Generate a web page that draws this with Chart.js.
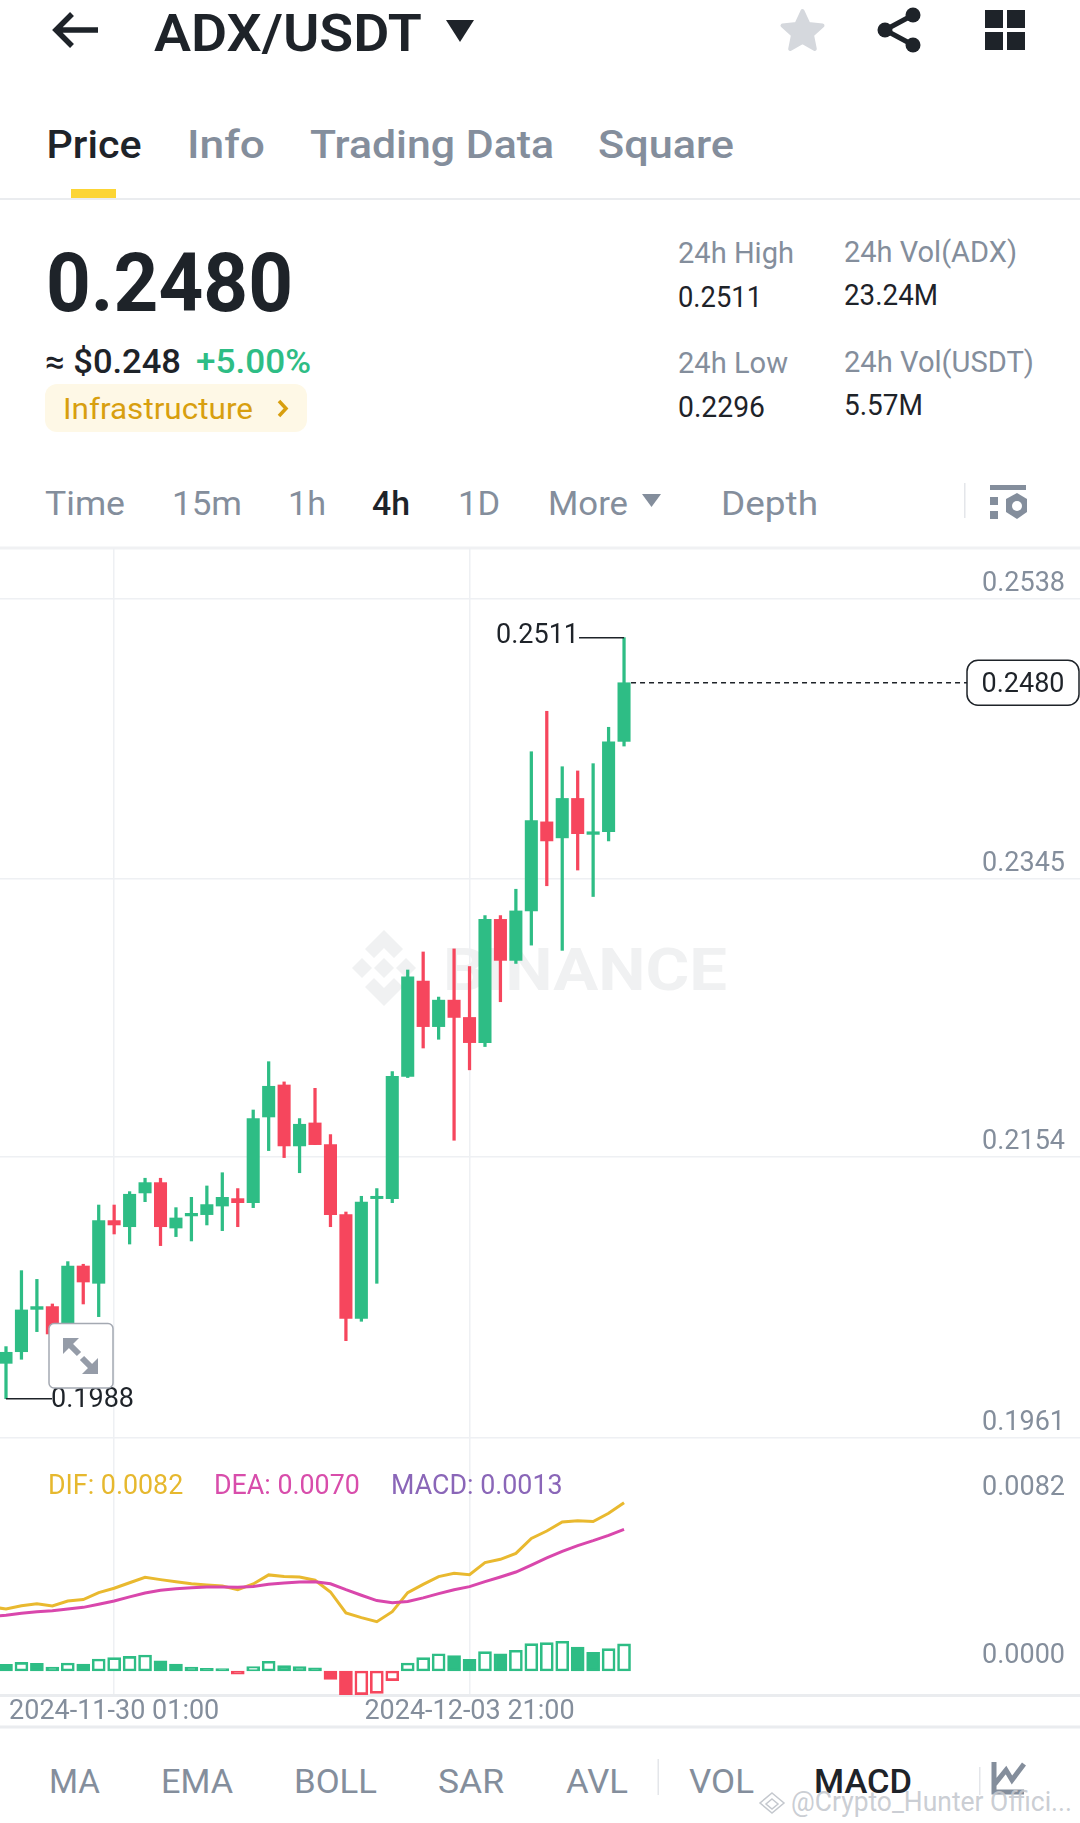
<!DOCTYPE html>
<html lang="en">
<head>
<meta charset="utf-8">
<title>ADX/USDT</title>
<script src="https://cdn.jsdelivr.net/npm/chart.js@4"></script>
<style>
    html, body { margin: 0; padding: 0; background: #fff; }
    #page { position: relative; width: 1080px; height: 1823px; overflow: hidden; font-family: Roboto, sans-serif; }
    #page svg, #grafica { position: absolute; left: 0; top: 0; }
    #grafica { top: 548px; }
    text { font-family: Roboto, sans-serif; }
    .gris { fill: #848E9C; }
    .oscuro { fill: #1E2329; }
</style>
</head>
<body>
<div id="page">
    <!-- cabecera, pestañas, marca de agua y barra inferior -->
    <svg width="1080" height="1823" viewBox="0 0 1080 1823">
        <path d="M98 30H58M72 14L56 30L72 46" fill="none" stroke="#1E2329" stroke-width="5.5"/>
        <text class="oscuro" x="154" y="51" font-size="52" font-weight="600" textLength="268" lengthAdjust="spacingAndGlyphs">ADX/USDT</text>
        <path d="M446 20H474L460 42Z" fill="#1E2329"/>
        <path d="M802.5 11L808.4 23.9L822.5 25.5L812 35L814.8 49L802.5 42L790.2 49L793 35L782.5 25.5L796.6 23.9Z" fill="#D5D8DD" stroke="#D5D8DD" stroke-width="4" stroke-linejoin="round"/>
        <g fill="#1E2329" stroke="#1E2329">
            <path d="M913 15L885 30L913 45" fill="none" stroke-width="5"/>
            <circle cx="913" cy="15" r="7.5" stroke="none"/><circle cx="885" cy="30" r="7.5" stroke="none"/><circle cx="913" cy="45" r="7.5" stroke="none"/>
        </g>
        <g fill="#1E2329">
            <rect x="985" y="10" width="18" height="18"/><rect x="1007" y="10" width="18" height="18"/>
            <rect x="985" y="32" width="18" height="18"/><rect x="1007" y="32" width="18" height="18"/>
        </g>

        <text class="oscuro" x="46.500" y="158" font-size="38" textLength="95" lengthAdjust="spacingAndGlyphs" font-weight="500">Price</text>
        <text class="gris" x="187" y="158" font-size="38" font-weight="500" textLength="78" lengthAdjust="spacingAndGlyphs">Info</text>
        <text class="gris" x="310" y="158" font-size="38" font-weight="500" textLength="244" lengthAdjust="spacingAndGlyphs">Trading Data</text>
        <text class="gris" x="598" y="158" font-size="38" font-weight="500" textLength="136" lengthAdjust="spacingAndGlyphs">Square</text>
        <rect x="71" y="189" width="45" height="9" fill="#FCD535"/>
        <rect x="0" y="198" width="1080" height="2" fill="#EAECEF"/>

        <text class="oscuro" x="46" y="311" font-size="82" font-weight="700" textLength="247" lengthAdjust="spacingAndGlyphs">0.2480</text>
        <text class="oscuro" x="45" y="373" font-size="33" font-weight="500" textLength="136" lengthAdjust="spacingAndGlyphs">≈ $0.248</text>
        <text x="196" y="373" font-size="33" font-weight="500" fill="#2EBD85" textLength="115" lengthAdjust="spacingAndGlyphs">+5.00%</text>
        <rect x="45" y="384" width="262" height="48" rx="12" fill="#FEF8E6"/>
        <text x="63" y="419" font-size="29" fill="#D89F0F" textLength="190" lengthAdjust="spacingAndGlyphs">Infrastructure</text>
        <path d="M279 401L286 408.500L279 416" fill="none" stroke="#D89F0F" stroke-width="3.5"/>

        <text class="gris" x="678" y="263" font-size="29" textLength="116" lengthAdjust="spacingAndGlyphs">24h High</text>
        <text class="gris" x="844" y="262" font-size="29" textLength="173" lengthAdjust="spacingAndGlyphs">24h Vol(ADX)</text>
        <text class="oscuro" x="678" y="307" font-size="29" textLength="84" lengthAdjust="spacingAndGlyphs">0.2511</text>
        <text class="oscuro" x="844" y="305" font-size="29" textLength="94" lengthAdjust="spacingAndGlyphs">23.24M</text>
        <text class="gris" x="678" y="373" font-size="29" textLength="110" lengthAdjust="spacingAndGlyphs">24h Low</text>
        <text class="gris" x="844" y="372" font-size="29" textLength="190" lengthAdjust="spacingAndGlyphs">24h Vol(USDT)</text>
        <text class="oscuro" x="678" y="417" font-size="29" textLength="87" lengthAdjust="spacingAndGlyphs">0.2296</text>
        <text class="oscuro" x="844" y="415" font-size="29" textLength="79" lengthAdjust="spacingAndGlyphs">5.57M</text>

        <text class="gris" x="45" y="515" font-size="34" textLength="80" lengthAdjust="spacingAndGlyphs">Time</text>
        <text class="gris" x="172" y="515" font-size="34" textLength="70" lengthAdjust="spacingAndGlyphs">15m</text>
        <text class="gris" x="288" y="515" font-size="34" textLength="38" lengthAdjust="spacingAndGlyphs">1h</text>
        <text class="oscuro" x="372" y="515" font-size="34" font-weight="500" textLength="38" lengthAdjust="spacingAndGlyphs">4h</text>
        <text class="gris" x="458" y="515" font-size="34" textLength="42" lengthAdjust="spacingAndGlyphs">1D</text>
        <text class="gris" x="548" y="515" font-size="34" textLength="80" lengthAdjust="spacingAndGlyphs">More</text>
        <path d="M642 494H661L651.500 507Z" fill="#848E9C"/>
        <text class="gris" x="721" y="515" font-size="34" textLength="97" lengthAdjust="spacingAndGlyphs">Depth</text>
        <rect x="964" y="483" width="1.5" height="35" fill="#E4E6EA"/>
        <g fill="#848E9C">
            <rect x="990" y="485" width="36" height="5"/>
            <rect x="990" y="497" width="8" height="8"/><rect x="990" y="511" width="8" height="8"/>
            <path d="M1017 493L1027 499V512L1017 519L1006 512V499Z"/>
        </g>
        <circle cx="1017" cy="506" r="5" fill="#fff"/>
        <rect x="0" y="546.500" width="1080" height="3" fill="#F0F1F3"/>

        <!-- marca de agua del grafico -->
        <g fill="#F0F1F2">
            <path d="M384 930L403 949L394 958L384 948L374 958L365 949Z"/>
            <path d="M384 1006L403 987L394 978L384 988L374 978L365 987Z"/>
            <path d="M352 968L362 958L372 968L362 978Z"/><path d="M396 968L406 958L416 968L406 978Z"/>
            <path d="M384 958L394 968L384 978L374 968Z"/>
        </g>
        <text x="443" y="990" font-size="59" font-weight="700" fill="#F0F1F2" textLength="284" lengthAdjust="spacingAndGlyphs">BINANCE</text>

        <rect x="0" y="1725.500" width="1080" height="3" fill="#EAECEF"/>
        <text class="gris" x="49" y="1793" font-size="34" textLength="51" lengthAdjust="spacingAndGlyphs">MA</text>
        <text class="gris" x="161" y="1793" font-size="34" textLength="72" lengthAdjust="spacingAndGlyphs">EMA</text>
        <text class="gris" x="294" y="1793" font-size="34" textLength="83" lengthAdjust="spacingAndGlyphs">BOLL</text>
        <text class="gris" x="438" y="1793" font-size="34" textLength="66" lengthAdjust="spacingAndGlyphs">SAR</text>
        <text class="gris" x="566" y="1793" font-size="34" textLength="62" lengthAdjust="spacingAndGlyphs">AVL</text>
        <rect x="657.500" y="1759" width="1.5" height="36" fill="#E4E6EA"/>
        <text class="gris" x="689" y="1793" font-size="34" textLength="65" lengthAdjust="spacingAndGlyphs">VOL</text>
        <text class="oscuro" x="814" y="1793" font-size="34" font-weight="500" textLength="98" lengthAdjust="spacingAndGlyphs">MACD</text>
        <rect x="979" y="1767" width="1.5" height="28" fill="#E4E6EA"/>
        <path d="M994 1762V1792H1024M994 1785L1006 1770L1012 1780L1024 1764" fill="none" stroke="#848E9C" stroke-width="5"/>

        <!-- firma sobre la barra inferior -->
        <path d="M772 1793L784 1803L772 1813L760 1803ZM772 1799L778 1804L772 1809L766 1804Z" fill="none" stroke="#C4C8CE" stroke-width="1.5"/>
        <text x="791" y="1811" font-size="27" fill="#C4C8CE" fill-opacity="0.9" textLength="281" lengthAdjust="spacingAndGlyphs">@Crypto_Hunter Offici...</text>
    </svg>

    <canvas id="grafica" width="1080" height="1179"></canvas>

    <!-- boton de expandir encima de las velas -->
    <svg width="1080" height="1823" viewBox="0 0 1080 1823" style="pointer-events:none">
        <rect x="49" y="1323.500" width="64" height="64.500" rx="5" fill="#fff" stroke="#A4A9B2" stroke-width="1.5"/>
        <path d="M63 1338H79L63 1354Z M98 1374H82L98 1358Z" fill="#959CA8"/>
        <path d="M69 1344L79 1354M82 1358L92 1368" stroke="#959CA8" stroke-width="6"/>
    </svg>
</div>

<script>
(function() {
    const etiquetasTiempo = ['2024-11-30 01:00', '2024-12-03 21:00'];
    const indicesTiempo = [7, 30];

    const aperturas = [
        0.20123, 0.20203, 0.20494, 0.20513, 0.20325, 0.20792, 0.20673, 0.21104, 0.21062, 0.21294, 0.21365,
        0.21053, 0.21136, 0.21145, 0.21204, 0.21255, 0.21227, 0.21816, 0.22036, 0.21617, 0.21775,
        0.21626, 0.21145, 0.20432, 0.21255, 0.21255, 0.22095, 0.22750, 0.22437, 0.22619, 0.22500,
        0.22327, 0.23174, 0.22892, 0.23232, 0.23844, 0.23734, 0.24005, 0.23758, 0.23776, 0.24397
    ];
    const maximos = [
        0.20238, 0.20760, 0.20700, 0.20531, 0.20822, 0.20804, 0.21211, 0.21211, 0.21303, 0.21395, 0.21395,
        0.21193, 0.21264, 0.21342, 0.21433, 0.21324, 0.21864, 0.22196, 0.22057, 0.21805, 0.22013,
        0.21695, 0.21163, 0.21271, 0.21324, 0.22128, 0.22826, 0.22950, 0.22640, 0.22971, 0.22850,
        0.23200, 0.23200, 0.23381, 0.24326, 0.24604, 0.24223, 0.24194, 0.24244, 0.24494, 0.25110
    ];
    const minimos = [
        0.19880, 0.20151, 0.20341, 0.20318, 0.20311, 0.20531, 0.20444, 0.21012, 0.20943, 0.21234, 0.20932,
        0.20994, 0.20964, 0.21074, 0.21035, 0.21062, 0.21193, 0.21585, 0.21537, 0.21433, 0.21626,
        0.21062, 0.20279, 0.20412, 0.20673, 0.21227, 0.22087, 0.22290, 0.22350, 0.21656, 0.22140,
        0.22300, 0.22608, 0.22871, 0.22997, 0.23405, 0.22961, 0.23513, 0.23331, 0.23713, 0.24365
    ];
    const cierres = [
        0.20199, 0.20490, 0.20513, 0.20325, 0.20792, 0.20682, 0.21104, 0.21074, 0.21285, 0.21365, 0.21062,
        0.21122, 0.21154, 0.21214, 0.21264, 0.21227, 0.21805, 0.22027, 0.21617, 0.21766, 0.21626,
        0.21145, 0.20432, 0.21232, 0.21271, 0.22096, 0.22779, 0.22437, 0.22619, 0.22500, 0.22327,
        0.23174, 0.22892, 0.23232, 0.23852, 0.23713, 0.24005, 0.23763, 0.23776, 0.24394, 0.24800
    ];

    // DIF y DEA empiezan una vela antes del borde izquierdo
    const dif = [
        0.00313, 0.00302, 0.00318, 0.00328, 0.00317, 0.00341, 0.00348, 0.00382, 0.00403, 0.00430, 0.00456,
        0.00445, 0.00435, 0.00425, 0.00419, 0.00414, 0.00396, 0.00424, 0.00468, 0.00460, 0.00458,
        0.00442, 0.00385, 0.00283, 0.00260, 0.00240, 0.00289, 0.00382, 0.00422, 0.00460, 0.00476,
        0.00469, 0.00528, 0.00544, 0.00573, 0.00646, 0.00682, 0.00726, 0.00732, 0.00728, 0.00768, 0.00820
    ];
    const dea = [
        0.00265, 0.00271, 0.00281, 0.00289, 0.00294, 0.00302, 0.00310, 0.00325, 0.00341, 0.00361, 0.00380,
        0.00393, 0.00401, 0.00406, 0.00409, 0.00409, 0.00408, 0.00412, 0.00422, 0.00429, 0.00434,
        0.00435, 0.00425, 0.00396, 0.00369, 0.00343, 0.00333, 0.00339, 0.00356, 0.00377, 0.00396,
        0.00411, 0.00435, 0.00458, 0.00482, 0.00516, 0.00551, 0.00583, 0.00611, 0.00635, 0.00661, 0.00690
    ];
    const macd = [
        0.00032, 0.00042, 0.00037, 0.00019, 0.00039, 0.00034, 0.00058, 0.00065, 0.00071, 0.00078, 0.00050,
        0.00034, 0.00019, 0.00013, 0.00012, -0.00015, 0.00021, 0.00047, 0.00026, 0.00021, 0.00015,
        -0.00041, -0.00117, -0.00115, -0.00109, -0.00047, 0.00039, 0.00065, 0.00084, 0.00075, 0.00057,
        0.00094, 0.00084, 0.00101, 0.00133, 0.00138, 0.00145, 0.00117, 0.00091, 0.00109, 0.00132
    ];

    const ticksPrecio = [0.2538, 0.2345, 0.2154, 0.1961];
    const ticksMacd = [0.0082, 0];

    const VERDE = '#2EBD85';
    const ROJO = '#F6465D';
    const GRIS = '#848E9C';
    const OSCURO = '#1E2329';
    const LINEA = '#EEF0F3';

    const colorVela = aperturas.map((a, i) => cierres[i] >= a ? VERDE : ROJO);
    const colorMacd = macd.map(v => v >= 0 ? VERDE : ROJO);
    // la barra hueca es la que sube respecto a la anterior
    const rellenoMacd = macd.map((v, i) => (i > 0 && v >= macd[i - 1]) ? '#ffffff' : colorMacd[i]);

    // sin esto el eje deja hueco arriba y abajo por sus etiquetas
    function ajustarEjeY(axis) {
        axis.width = 0;
        axis.paddingTop = 0;
        axis.paddingBottom = 0;
    }

    // dibuja maximo, minimo y ultimo precio sobre las velas
    const marcas = {
        id: 'marcas',
        afterDatasetsDraw(chart) {
            const { ctx, scales } = chart;
            const x = scales.x, y = scales.precio;
            const ultimo = aperturas.length - 1;
            const xMax = x.getPixelForValue(ultimo), yMax = y.getPixelForValue(maximos[ultimo]);
            const xMin = x.getPixelForValue(0), yMin = y.getPixelForValue(minimos[0]);
            const yUlt = y.getPixelForValue(cierres[ultimo]);

            ctx.save();
            ctx.strokeStyle = OSCURO;
            ctx.fillStyle = OSCURO;
            ctx.lineWidth = 1.5;
            ctx.font = '27px Roboto';
            ctx.textBaseline = 'middle';

            ctx.beginPath();
            ctx.moveTo(xMax - 45, yMax);
            ctx.lineTo(xMax, yMax);
            ctx.moveTo(xMin, yMin);
            ctx.lineTo(xMin + 46, yMin);
            ctx.stroke();

            ctx.textAlign = 'right';
            ctx.fillText(maximos[ultimo].toFixed(4), xMax - 45, yMax - 1);
            ctx.textAlign = 'left';
            ctx.fillText(minimos[0].toFixed(4), xMin + 45, yMin + 2);

            // linea punteada hasta la caja del precio
            ctx.setLineDash([5, 4]);
            ctx.beginPath();
            ctx.moveTo(xMax + 7, yUlt);
            ctx.lineTo(967, yUlt);
            ctx.stroke();
            ctx.setLineDash([]);

            ctx.beginPath();
            ctx.roundRect(967, yUlt - 22.5, 112, 45, 11);
            ctx.fillStyle = '#ffffff';
            ctx.fill();
            ctx.stroke();
            ctx.fillStyle = OSCURO;
            ctx.textAlign = 'center';
            ctx.fillText(cierres[ultimo].toFixed(4), 1023, yUlt + 2);

            // leyenda del MACD
            ctx.font = '26.8px Roboto';
            ctx.textAlign = 'left';
            ctx.fillStyle = '#E6B82E';
            ctx.fillText('DIF: 0.0082', 48, 1487 - 548);
            ctx.fillStyle = '#D84DAB';
            ctx.fillText('DEA: 0.0070', 214, 1487 - 548);
            ctx.fillStyle = '#8A66B8';
            ctx.fillText('MACD: 0.0013', 391, 1487 - 548);
            ctx.restore();
        }
    };

    new Chart(document.querySelector('#grafica').getContext('2d'), {
        type: 'bar',
        plugins: [marcas],
        data: {
            datasets: [
                {
                    type: 'line',
                    yAxisID: 'macd',
                    data: dif.map((v, i) => ({ x: i - 1, y: v })),
                    borderColor: '#E9B92F',
                    borderWidth: 3,
                    pointRadius: 0,
                    tension: 0,
                    order: 1
                },
                {
                    type: 'line',
                    yAxisID: 'macd',
                    data: dea.map((v, i) => ({ x: i - 1, y: v })),
                    borderColor: '#D947AC',
                    borderWidth: 3,
                    pointRadius: 0,
                    tension: 0,
                    order: 0
                },
                {
                    yAxisID: 'macd',
                    data: macd.map((v, i) => ({ x: i, y: v })),
                    backgroundColor: rellenoMacd,
                    borderColor: colorMacd,
                    borderWidth: 2.6,
                    borderSkipped: false,
                    barThickness: 13,
                    grouped: false,
                    order: 2
                },
                {
                    yAxisID: 'precio',
                    data: aperturas.map((a, i) => ({ x: i, y: [minimos[i], maximos[i]] })),
                    backgroundColor: colorVela,
                    barThickness: 2.6,
                    grouped: false,
                    order: 4
                },
                {
                    yAxisID: 'precio',
                    data: aperturas.map((a, i) => ({ x: i, y: [a, cierres[i]] })),
                    backgroundColor: colorVela,
                    barThickness: 12.4,
                    grouped: false,
                    order: 3
                }
            ]
        },
        options: {
            responsive: false,
            animation: false,
            devicePixelRatio: 1,
            layout: { padding: 0, autoPadding: false },
            scales: {
                x: {
                    type: 'linear',
                    offset: false,
                    min: -0.388,
                    max: 69.51,
                    border: { color: '#EAECEF', width: 3 },
                    grid: { offset: false, color: LINEA, lineWidth: 1.5, drawTicks: false },
                    afterBuildTicks: axis => { axis.ticks = indicesTiempo.map(v => ({ value: v })); },
                    afterFit: axis => { axis.height = 32; },
                    ticks: {
                        autoSkip: false,
                        maxRotation: 0,
                        padding: 4,
                        color: GRIS,
                        font: { family: 'Roboto', size: 27, lineHeight: 1 },
                        callback: v => etiquetasTiempo[indicesTiempo.indexOf(v)]
                    }
                },
                precio: {
                    type: 'linear',
                    position: 'right',
                    stack: 'paneles',
                    stackWeight: 890,
                    min: 0.1961,
                    max: 0.25726,
                    border: { display: false },
                    grid: { color: LINEA, lineWidth: 1.5, drawTicks: false },
                    afterBuildTicks: axis => { axis.ticks = ticksPrecio.map(v => ({ value: v })); },
                    afterFit: ajustarEjeY,
                    ticks: {
                        mirror: true,
                        autoSkip: false,
                        padding: -15,
                        labelOffset: -14.5,
                        color: GRIS,
                        font: { family: 'Roboto', size: 27 },
                        callback: v => v.toFixed(4)
                    }
                },
                macd: {
                    type: 'linear',
                    position: 'right',
                    stack: 'paneles',
                    stackWeight: 257,
                    min: -0.00117,
                    max: 0.01135,
                    border: { display: false },
                    grid: { display: false, drawTicks: false },
                    afterBuildTicks: axis => { axis.ticks = ticksMacd.map(v => ({ value: v })); },
                    afterFit: ajustarEjeY,
                    ticks: {
                        mirror: true,
                        autoSkip: false,
                        padding: -15,
                        labelOffset: -14.5,
                        color: GRIS,
                        font: { family: 'Roboto', size: 27 },
                        callback: v => v.toFixed(4)
                    }
                }
            },
            plugins: {
                legend: { display: false },
                tooltip: { enabled: false }
            }
        }
    });
})();
</script>
</body>
</html>
